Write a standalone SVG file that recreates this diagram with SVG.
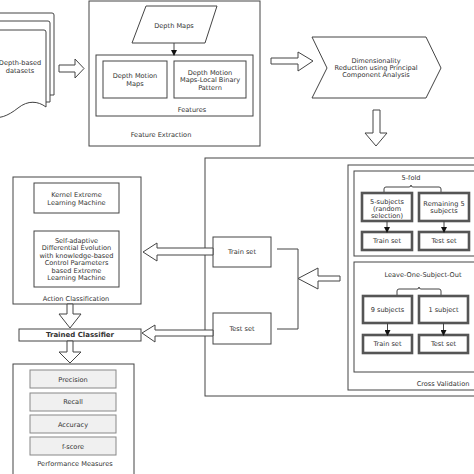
<svg xmlns="http://www.w3.org/2000/svg" width="474" height="474" viewBox="0 0 474 474">
<style>
text{font-family:"DejaVu Sans","Liberation Sans",sans-serif;font-size:6.6px;fill:#333;text-anchor:middle;dominant-baseline:middle}
.b{fill:#fff;stroke:#444;stroke-width:1}
.t{fill:#fff;stroke:#555;stroke-width:2.6}
.m{fill:#f0f0f0;stroke:#888;stroke-width:1}
.ha{fill:#fff;stroke:#444;stroke-width:1}
.ln{fill:none;stroke:#444;stroke-width:1}
.bold{font-weight:bold;font-size:7px}
</style>
<defs>
<marker id="ah" markerWidth="6" markerHeight="6" refX="5" refY="3" orient="auto" markerUnits="userSpaceOnUse">
<path d="M0,0 L6,3 L0,6 Z" fill="#111"/>
</marker>
</defs>
<rect width="474" height="474" fill="#fff"/>

<g id="datasets">
<path class="b" d="M-10,13 H52 Q54,13 54,15 V95 H-10 Z"/>
<path class="b" d="M-10,21 H48 Q50,21 50,23 V102 H-10 Z"/>
<path class="b" d="M-10,30 H44 Q46,30 46,32 V107 C38,101 28,100 18,108 C8,116 -2,120 -10,116 Z"/>
<text x="20" y="63">Depth-based</text>
<text x="20" y="71">datasets</text>
</g>

<g id="feature-extraction">
<rect class="b" x="89" y="1" width="171" height="145"/>
<text x="161" y="135">Feature Extraction</text>
</g>
<g id="depth-maps">
<path class="b" d="M146,6 H217 L205,43 H132 Z"/>
<text x="174" y="26">Depth Maps</text>
</g>
<g id="features">
<rect class="b" x="96" y="55" width="157" height="61"/>
<text x="192" y="110">Features</text>
</g>
<g id="dmm">
<rect class="b" x="103" y="61" width="64" height="37"/>
<text x="135" y="76">Depth Motion</text>
<text x="135" y="84">Maps</text>
</g>
<g id="dmm-lbp">
<rect class="b" x="174" y="61" width="72" height="37"/>
<text x="210" y="73">Depth Motion</text>
<text x="210" y="80.5">Maps-Local Binary</text>
<text x="210" y="88">Pattern</text>
</g>

<g id="pca">
<path class="b" d="M312,37 H426 L441,68 L426,98 H312 L327,68 Z"/>
<text x="376" y="61">Dimensionality</text>
<text x="376" y="68">Reduction using Principal</text>
<text x="376" y="75">Component Analysis</text>
</g>

<g id="cross-validation">
<rect class="b" x="205" y="158" width="280" height="238"/>
<rect class="b" x="348" y="165" width="140" height="225"/>
<text x="443" y="384">Cross Validation</text>
</g>
<g id="five-fold">
<rect class="b" x="354" y="171" width="130" height="85"/>
<text x="411" y="178">5-fold</text>
<path class="ln" d="M384,193 V189 Q384,187 386,187 H409 Q411,187 411,185 Q411,187 413,187 H439 Q441,187 441,189 V193"/>
</g>
<g id="five-subjects">
<rect class="t" x="362" y="193" width="50" height="28"/>
<text x="387" y="202">5-subjects</text>
<text x="387" y="209">(random</text>
<text x="387" y="216">selection)</text>
</g>
<g id="remaining-five">
<rect class="t" x="419" y="193" width="50" height="28"/>
<text x="444" y="204">Remaining 5</text>
<text x="444" y="211">subjects</text>
</g>
<g id="ff-train">
<rect class="t" x="362" y="232" width="50" height="18"/>
<text x="387" y="241">Train set</text>
</g>
<g id="ff-test">
<rect class="t" x="419" y="232" width="50" height="18"/>
<text x="444" y="241">Test set</text>
</g>
<g id="loso">
<rect class="b" x="354" y="262" width="130" height="110"/>
<text x="423" y="275">Leave-One-Subject-Out</text>
<path class="ln" d="M397,296 V291 Q397,289 399,289 H417 Q419,289 419,287 Q419,289 421,289 H439 Q441,289 441,291 V296"/>
</g>
<g id="nine-subjects">
<rect class="t" x="363" y="296" width="49" height="27"/>
<text x="387.5" y="310">9 subjects</text>
</g>
<g id="one-subject">
<rect class="t" x="419" y="296" width="49" height="27"/>
<text x="443.5" y="310">1 subject</text>
</g>
<g id="loso-train">
<rect class="t" x="363" y="335" width="49" height="18"/>
<text x="387.5" y="344">Train set</text>
</g>
<g id="loso-test">
<rect class="t" x="419" y="335" width="49" height="18"/>
<text x="443.5" y="344">Test set</text>
</g>

<g id="train-set">
<rect class="b" x="213" y="237" width="58" height="30"/>
<text x="242" y="252">Train set</text>
</g>
<g id="test-set">
<rect class="b" x="213" y="313" width="58" height="31"/>
<text x="242" y="329">Test set</text>
</g>

<g id="action-classification">
<rect class="b" x="13" y="177" width="128" height="127"/>
<text x="76" y="299">Action Classification</text>
</g>
<g id="kelm">
<rect class="b" x="34" y="183" width="85" height="30"/>
<text x="76.5" y="195">Kernel Extreme</text>
<text x="76.5" y="203">Learning Machine</text>
</g>
<g id="sade-elm">
<rect class="b" x="34" y="231" width="85" height="56"/>
<text x="76.5" y="241">Self-adaptive</text>
<text x="76.5" y="248.5">Differential Evolution</text>
<text x="76.5" y="256">with knowledge-based</text>
<text x="76.5" y="263.5">Control Parameters</text>
<text x="76.5" y="271">based Extreme</text>
<text x="76.5" y="278.5">Learning Machine</text>
</g>

<g id="trained-classifier">
<rect class="b" x="19" y="329" width="122" height="12"/>
<text class="bold" x="80" y="335.5">Trained Classifier</text>
</g>

<g id="performance-measures">
<rect class="b" x="13" y="364" width="121" height="120"/>
<text x="75" y="464">Performance Measures</text>
</g>
<g id="precision"><rect class="m" x="30" y="370" width="86" height="18"/><text x="73" y="380">Precision</text></g>
<g id="recall"><rect class="m" x="30" y="393" width="86" height="18"/><text x="73" y="402">Recall</text></g>
<g id="accuracy"><rect class="m" x="30" y="415" width="86" height="18"/><text x="73" y="425">Accuracy</text></g>
<g id="fscore"><rect class="m" x="30" y="437" width="86" height="18"/><text x="73" y="447">f-score</text></g>

<g id="connectors">
<path class="ha" d="M59,65 H75 V59 L84,68.5 L75,78 V72 H59 Z"/>
<path class="ha" d="M271,58 H298 V52 L313,61 L298,71 V64 H271 Z"/>
<path class="ha" d="M373,110 H380 V133 H387 L376,146 L365,133 H373 Z"/>
<path class="ln" d="M174,43 V55" marker-end="url(#ah)"/>
<path class="ln" d="M387,221 V232" marker-end="url(#ah)"/>
<path class="ln" d="M444,221 V232" marker-end="url(#ah)"/>
<path class="ln" d="M387.5,323 V335" marker-end="url(#ah)"/>
<path class="ln" d="M443.5,323 V335" marker-end="url(#ah)"/>
<path class="ln" d="M277,249 H298 V329 H277"/>
<path class="ha" d="M340,276 H318 V268 L298,278.5 L318,289 V281 H340 Z"/>
<path class="ha" d="M213,248 H157 V243 L143,252 L157,261 V255 H213 Z"/>
<path class="ha" d="M213,330 H155 V325 L142,333 L155,342 V336 H213 Z"/>
<path class="ha" d="M67,304 H73 V314 H81 L70,328 L59,314 H67 Z"/>
<path class="ha" d="M67,341 H73 V352 H81 L70,363 L59,352 H67 Z"/>
</g>
</svg>
